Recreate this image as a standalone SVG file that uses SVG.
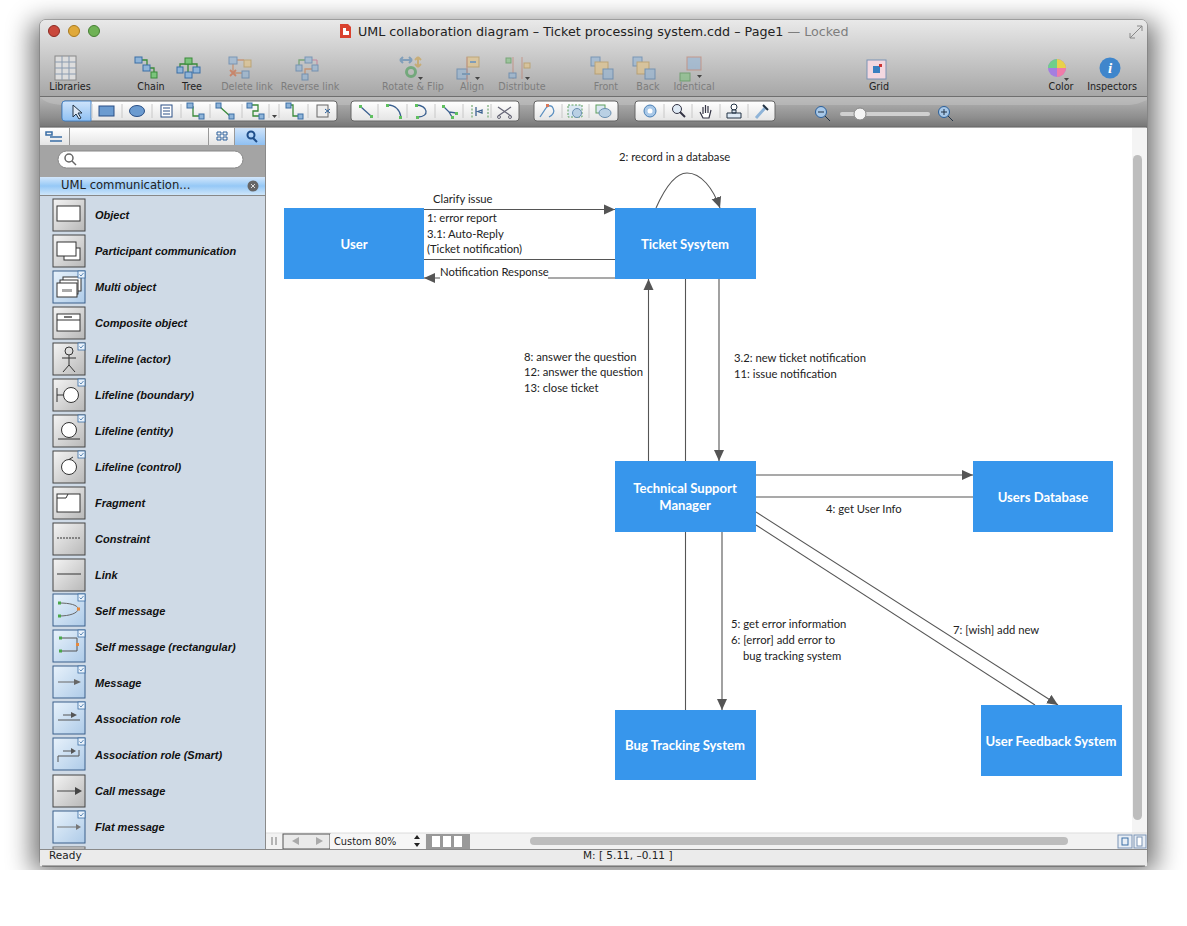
<svg xmlns="http://www.w3.org/2000/svg" width="1187" height="926" viewBox="0 0 1187 926">
<style>
text{font-family:"DejaVu Sans",sans-serif;fill:#222}
.tb{font-size:9.6px;text-anchor:middle;fill:#222}
.dim{fill:#7d7d7d}
.pal{font-family:"Liberation Sans",Arial,sans-serif;font-size:11px;font-weight:bold;font-style:italic;fill:#111}
.node rect{fill:#3796ec}
.node text{font-family:Lato,"Open Sans",sans-serif;font-size:13.100px;font-weight:bold;fill:#fff;text-anchor:middle}
.lab{font-family:Lato,"Open Sans",sans-serif;font-size:11.250px;fill:#222}
.c{fill:none;stroke:#555;stroke-width:1.1}
.ic{fill:#fff;stroke:#333;stroke-width:1}
.bl{fill:#8fb4d8;stroke:#3a6ea5;stroke-width:1}
.gr{fill:#7bc47b;stroke:#3a8a3a;stroke-width:1}
.or{fill:#e8c47e;stroke:#b58b3a;stroke-width:1}
.ln{fill:none;stroke:#3a6090;stroke-width:1.300}
.lg{fill:none;stroke:#3a8a3a;stroke-width:1.300}
.lo{fill:none;stroke:#c9703a;stroke-width:1.300}
.hg{fill:#5fbf5f}
.sep{stroke:#c8c8c8;stroke-width:1}
.faded{opacity:.55}
.tri{fill:#444}
</style>
<defs>
<linearGradient id="chrome" x1="0" y1="0" x2="0" y2="1"><stop offset="0" stop-color="#e9e9e9"/><stop offset="1" stop-color="#a6a6a6"/></linearGradient>
<linearGradient id="strip" x1="0" y1="0" x2="0" y2="1"><stop offset="0" stop-color="#b5b5b5"/><stop offset=".7" stop-color="#8d8d8d"/><stop offset="1" stop-color="#767676"/></linearGradient>
<linearGradient id="btn" x1="0" y1="0" x2="0" y2="1"><stop offset="0" stop-color="#fff"/><stop offset="1" stop-color="#e4e4e4"/></linearGradient>
<linearGradient id="sel" x1="0" y1="0" x2="0" y2="1"><stop offset="0" stop-color="#cfe4fb"/><stop offset="1" stop-color="#8fc0f2"/></linearGradient>
<linearGradient id="hdr" x1="0" y1="0" x2="0" y2="1"><stop offset="0" stop-color="#d3e7fb"/><stop offset=".5" stop-color="#95c8f6"/><stop offset="1" stop-color="#cfe6fa"/></linearGradient>
<linearGradient id="tile" x1="0" y1="0" x2="1" y2="1"><stop offset="0" stop-color="#f4f4f4"/><stop offset="1" stop-color="#b8b8b8"/></linearGradient>
<linearGradient id="tileb" x1="0" y1="0" x2="1" y2="1"><stop offset="0" stop-color="#e8f2fb"/><stop offset="1" stop-color="#aecbe8"/></linearGradient>
<filter id="sh" x="-10%" y="-10%" width="120%" height="120%"><feGaussianBlur stdDeviation="13"/></filter>
<clipPath id="page"><rect x="0" y="0" width="1187" height="870"/></clipPath>
<marker id="arr" markerUnits="userSpaceOnUse" markerWidth="12" markerHeight="12" refX="11" refY="5.500" orient="auto"><path d="M0 0.500L11 5.500L0 10.500Z" fill="#555"/></marker>
<g id="chk"><rect x="0" y="0" width="7" height="7" fill="#eaf2fb" stroke="#3a6ea5" stroke-width=".8"/><path d="M1.500 3.500L3 5L5.500 2" fill="none" stroke="#3a6ea5" stroke-width=".8"/></g>
<rect id="t" x="0" y="0" width="32" height="32" fill="url(#tile)" stroke="#444" stroke-width="1"/>
<rect id="tb" x="0" y="0" width="32" height="32" fill="url(#tileb)" stroke="#3a5f8a" stroke-width="1"/>
</defs>

<g clip-path="url(#page)"><rect x="32" y="22" width="1124" height="850" fill="#000" opacity=".55" filter="url(#sh)"/></g>

<!-- window -->
<rect x="40" y="20" width="1107" height="846" rx="5" fill="#ececec" stroke="#777"/>
<path d="M40 97V25a5 5 0 0 1 5-5H1142a5 5 0 0 1 5 5V97Z" fill="url(#chrome)"/>
<rect x="40" y="97" width="1107" height="30" fill="url(#strip)"/>
<path d="M40 97H1147V100C1140 103 1135 105 1125 105H65C55 105 45 103 40 97Z" fill="#c0c0c0" opacity=".6"/>
<line x1="40" y1="96.500" x2="1147" y2="96.500" stroke="#6f6f6f"/>
<line x1="40" y1="127" x2="1147" y2="127" stroke="#666"/>
<circle cx="54" cy="31" r="5.500" fill="#c9483c" stroke="#8c2a22"/><circle cx="74" cy="31" r="5.500" fill="#e0a93a" stroke="#a97a1e"/><circle cx="94" cy="31" r="5.500" fill="#6fb255" stroke="#467f34"/>
<path d="M340 24H348L351 27V38H340Z" fill="#d9412e"/><path d="M343 28H346V31H349V35H343Z" fill="#fff"/>
<text x="358" y="36" font-size="12.700">UML collaboration diagram – Ticket processing system.cdd – Page1 <tspan class="dim">— Locked</tspan></text>
<path d="M1130 38L1136 32M1130 38V33M1130 38H1135" stroke="#888" fill="none"/><path d="M1142 26L1136 32M1142 26V31M1142 26H1137" stroke="#888" fill="none"/>

<!-- top toolbar -->
<g>
<rect x="55" y="56" width="21" height="24" fill="#ddd" stroke="#888"/><path d="M55 62H76M55 68H76M55 74H76M62 56V80M69 56V80" stroke="#8a9bb0"/>
<path d="M141 60H147V65M150 68H154V72" class="lg"/><rect x="135" y="57" width="7" height="6" class="bl"/><rect x="143" y="65" width="7" height="6" class="bl"/><rect x="151" y="72" width="6" height="6" class="gr"/>
<path d="M188 64V72M180 67V64H197V67" class="lg"/><rect x="185" y="58" width="7" height="6" class="gr"/><rect x="177" y="67" width="6" height="6" class="bl"/><rect x="185" y="72" width="7" height="6" class="bl"/><rect x="193" y="67" width="7" height="6" class="bl"/>
<g class="faded"><path d="M237 60H244M233 64V73H242" class="lo"/><rect x="229" y="57" width="8" height="7" class="bl"/><rect x="244" y="60" width="7" height="7" class="or"/><rect x="242" y="71" width="7" height="7" class="bl"/><path d="M230 70L236 76M236 70L230 76" stroke="#d35a2a" stroke-width="1.800"/></g>
<g class="faded"><path d="M299 65V60H305" class="lg"/><path d="M312 60H317V65" stroke="#c0507a" fill="none"/><path d="M305 74V69H314" class="lo"/><rect x="305" y="57" width="7" height="6" class="bl"/><rect x="296" y="65" width="6" height="6" class="bl"/><rect x="312" y="65" width="6" height="6" class="bl"/><rect x="302" y="74" width="6" height="6" class="bl"/></g>
<g class="faded"><path d="M400 60H412M400 60L403 57M400 60L403 63M412 60L409 57M412 60L409 63" stroke="#4a7fb0" stroke-width="2" fill="none"/><path d="M418 57V67M418 57L415 60M418 57L421 60M418 67L415 64M418 67L421 64" stroke="#c99a3a" stroke-width="2" fill="none"/><circle cx="411" cy="72" r="4.500" fill="none" stroke="#3a9a4a" stroke-width="3"/></g>
<path d="M418 77H423L420.500 80Z" class="tri"/>
<g class="faded"><rect x="467" y="57" width="12" height="10" class="or"/><rect x="457" y="69" width="10" height="10" class="bl"/><path d="M467 57V82" stroke="#c0705a"/><path d="M470 62H476M462 74H470" stroke="#4a7fb0" stroke-width="2"/></g>
<path d="M475 77H480L477.500 80Z" class="tri"/>
<g class="faded"><path d="M513 57V79M522 57V79" stroke="#c0705a"/><rect x="506" y="58" width="5" height="5" class="gr"/><rect x="509" y="73" width="7" height="5" class="bl"/><rect x="524" y="63" width="6" height="5" class="or"/></g>
<path d="M525 77H530L527.500 80Z" class="tri"/>
<g class="faded"><rect x="591" y="57" width="9" height="9" class="bl"/><rect x="595" y="62" width="13" height="12" class="or"/><rect x="603" y="69" width="10" height="10" class="bl"/></g>
<g class="faded"><rect x="633" y="57" width="9" height="9" class="bl"/><rect x="637" y="62" width="12" height="12" class="or"/><rect x="645" y="69" width="10" height="10" class="bl"/></g>
<g class="faded"><rect x="687" y="57" width="14" height="13" fill="#8fb4d8" stroke="#c0705a"/><rect x="680" y="73" width="10" height="8" class="gr"/></g>
<path d="M697 75H702L699.500 78Z" class="tri"/>
<rect x="867" y="60" width="19" height="19" fill="#f4d8e0" stroke="#7a93b5"/><rect x="873" y="66" width="7" height="7" fill="#3a7fc0"/><rect x="879" y="64" width="3" height="3" fill="#c33"/>
<circle cx="1057" cy="68" r="9" fill="#a47fe0"/><path d="M1057 59A9 9 0 0 1 1066 68H1057Z" fill="#e8d24a"/><path d="M1057 68H1066A9 9 0 0 1 1057 77Z" fill="#f07ca8"/><path d="M1048 68A9 9 0 0 1 1057 59V68Z" fill="#6fd08a"/>
<path d="M1064 78H1069L1066.500 81Z" class="tri"/>
<circle cx="1110" cy="68" r="10.500" fill="#3f86cc"/><text x="1110" y="73" font-size="15" font-weight="bold" font-style="italic" text-anchor="middle" style="fill:#fff;font-family:'Liberation Serif',serif">i</text>
<text class="tb" x="70" y="90">Libraries</text><text class="tb" x="151" y="90">Chain</text><text class="tb" x="192" y="90">Tree</text>
<text class="tb dim" x="247" y="90">Delete link</text><text class="tb dim" x="310" y="90">Reverse link</text><text class="tb dim" x="413" y="90">Rotate &amp; Flip</text><text class="tb dim" x="472" y="90">Align</text><text class="tb dim" x="522" y="90">Distribute</text><text class="tb dim" x="606" y="90">Front</text><text class="tb dim" x="648" y="90">Back</text><text class="tb dim" x="694" y="90">Identical</text>
<text class="tb" x="879" y="90">Grid</text><text class="tb" x="1061" y="90">Color</text><text class="tb" x="1112" y="90">Inspectors</text>
</g>

<!-- second toolbar -->
<g>
<rect x="62" y="101" width="275" height="20" rx="3" fill="url(#btn)" stroke="#666"/>
<path d="M65 101H91V121H65a3 3 0 0 1-3-3V104a3 3 0 0 1 3-3Z" fill="url(#sel)" stroke="#4a86c8"/>
<rect x="351" y="101" width="168" height="20" rx="3" fill="url(#btn)" stroke="#666"/>
<rect x="534" y="101" width="84" height="20" rx="3" fill="url(#btn)" stroke="#666"/>
<rect x="635" y="101" width="140" height="20" rx="3" fill="url(#btn)" stroke="#666"/>
<path d="M92 104V118M122 104V118M152 104V118M181 104V118M210 104V118M242 104V118M269 104V118M279 104V118M308 104V118M378 104V118M407 104V118M435 104V118M463 104V118M491 104V118M562 104V118M589 104V118M664 104V118M692 104V118M720 104V118M748 104V118" class="sep"/>
<path d="M73 105V117L76 114L79 119L81 118L78 113H82Z" fill="#dfe9f5" stroke="#234"/>
<rect x="99" y="106" width="15" height="10" fill="#6b9bd0" stroke="#2a4f85"/>
<ellipse cx="137" cy="111" rx="7.500" ry="5.500" fill="#6b9bd0" stroke="#2a4f85"/>
<rect x="161" y="105" width="11" height="12" fill="#fff" stroke="#2a4f85"/><path d="M163 108H170M163 111H170M163 114H170" stroke="#2a4f85"/>
<path d="M190 107H193V116H199" class="lg"/><rect x="187" y="103" width="6" height="5" class="bl"/><rect x="199" y="114" width="5" height="5" class="bl"/>
<path d="M220 107L230 116" class="lg"/><rect x="216" y="103" width="5" height="5" class="bl"/><rect x="229" y="114" width="5" height="5" class="bl"/>
<path d="M252 105H258V111H253V116H259" class="lg"/><rect x="247" y="103" width="5" height="5" class="bl"/><rect x="259" y="114" width="5" height="5" class="bl"/>
<path d="M272 115H277L274.500 118Z" class="tri"/>
<path d="M290 105H293V116H298" class="lg"/><rect x="286" y="103" width="5" height="5" class="bl"/><rect x="298" y="114" width="5" height="5" class="bl"/>
<rect x="317" y="105" width="11" height="12" fill="#eee" stroke="#666"/><path d="M325 109L330 113M330 109L325 113" stroke="#2a5f9a"/>
<g class="ln"><path d="M361 107L371 116"/><path d="M388 105C395 105 400 110 401 117"/><path d="M416 105C428 105 430 117 418 117"/><path d="M443 106L449 112L456 113M449 112L452 117"/><path d="M476 107V116M482 110L478 111.500L482 113Z"/><path d="M492 0" /></g>
<path d="M472 105V118M488 105V118" stroke="#7cae7c" stroke-dasharray="2 1.500" stroke-width="1.300"/>
<path d="M498 107L511 116M511 107L498 116" stroke="#667" stroke-width="1.300"/><circle cx="499" cy="117" r="1.500" fill="none" stroke="#667"/><circle cx="510" cy="117" r="1.500" fill="none" stroke="#667"/>
<g class="hg"><rect x="359" y="105" width="3" height="3"/><rect x="370" y="115" width="3" height="3"/><rect x="386" y="104" width="3" height="3"/><rect x="399" y="116" width="3" height="3"/><rect x="415" y="104" width="3" height="3"/><rect x="416" y="116" width="3" height="3"/><rect x="442" y="105" width="3" height="3"/><rect x="451" y="116" width="3" height="3"/><rect x="455" y="112" width="3" height="3"/></g>
<path d="M540 117L546 108C548 105 552 105 553 108C555 112 553 115 549 117" fill="none" stroke="#5a8fc0" stroke-width="1.300"/><rect x="546" y="104" width="3" height="3" fill="#d9785a"/>
<rect x="568" y="105" width="14" height="12" fill="#dbe8f3" stroke="#5fa05f" stroke-dasharray="2 1.500"/><circle cx="577" cy="113" r="4.500" fill="#b9d0e4" stroke="#6a8fb0"/>
<rect x="596" y="105" width="9" height="8" fill="#dbe8f3" stroke="#5fa05f"/><ellipse cx="605" cy="113" rx="6" ry="4.500" fill="#b9d0e4" stroke="#6a8fb0"/>
<circle cx="650" cy="111" r="6" fill="#a8c8e8" stroke="#4a80b5"/><circle cx="650" cy="111" r="2.500" fill="#fff"/>
<circle cx="677" cy="109" r="4.500" fill="#dfeaf5" stroke="#334"/><path d="M680 112L685 117" stroke="#334" stroke-width="2"/>
<path d="M700 112L703 118H709L711 110M703 114V107M705.500 113V105M708 113V106" fill="#fff" stroke="#334" stroke-width="1.200"/>
<circle cx="734" cy="107" r="3" fill="#fff" stroke="#234"/><path d="M732 110H736V113H732ZM727 113H741V118H727Z" fill="#dfeaf5" stroke="#234"/>
<path d="M756 118L765 108" stroke="#8fb4d8" stroke-width="3"/><path d="M763 105L768 110" stroke="#234" stroke-width="2"/>
<circle cx="821" cy="112" r="5.500" fill="#a8c8e8" stroke="#2a5f9a"/><path d="M818 112H824M825 116L830 121" stroke="#234"/>
<rect x="840" y="112" width="90" height="4" rx="2" fill="#d0d0d0"/><circle cx="860" cy="114" r="6" fill="#f4f4f4" stroke="#888"/>
<circle cx="944" cy="112" r="5.500" fill="#a8c8e8" stroke="#2a5f9a"/><path d="M941 112H947M944 109V115M948 116L953 121" stroke="#234"/>
</g>

<!-- sidebar -->
<g>
<rect x="40" y="127" width="226" height="722" fill="#a4a4a4"/>
<rect x="40" y="128" width="226" height="17" fill="url(#btn)"/>
<path d="M69.500 128V145M208.500 128V145M234.500 128V145" stroke="#999"/>
<rect x="235" y="128" width="31" height="17" fill="url(#sel)"/>
<path d="M46 132H52V135H46ZM50 137H62M50 141H62" fill="none" stroke="#3a6ea5" stroke-width="1.500"/>
<path d="M217 132H221V135H217ZM223 132H227V135H223ZM217 137H221V140H217ZM223 137H227V140H223Z" fill="none" stroke="#2a5f9a"/>
<circle cx="251" cy="135" r="3.500" fill="none" stroke="#1f4e8a" stroke-width="2"/><path d="M253 138L257 142" stroke="#1f4e8a" stroke-width="2"/>
<rect x="58" y="151" width="185" height="17" rx="8.500" fill="#fff" stroke="#888"/>
<circle cx="69" cy="158" r="4" fill="none" stroke="#666" stroke-width="1.500"/><path d="M72 161L76 165" stroke="#666" stroke-width="1.500"/>
<rect x="40" y="177" width="226" height="18" fill="url(#hdr)"/><line x1="40" y1="195.500" x2="266" y2="195.500" stroke="#888"/>
<text x="61" y="189" font-size="11.600">UML communication...</text>
<circle cx="253" cy="186" r="5.500" fill="#666"/><path d="M251 184L255 188M255 184L251 188" stroke="#ddd"/>
<rect x="40" y="196" width="226" height="653" fill="#cfdae6"/>
<line x1="265.500" y1="127" x2="265.500" y2="849" stroke="#8a8a8a"/>

<use href="#t" x="53" y="199"/><rect x="57" y="206" width="23" height="15" class="ic"/>
<use href="#t" x="53" y="235"/><rect x="64" y="248" width="16" height="12" class="ic"/><rect x="57" y="242" width="19" height="14" class="ic"/>
<use href="#tb" x="53" y="271"/><rect x="63" y="277" width="18" height="14" class="ic"/><rect x="60" y="280" width="18" height="14" class="ic"/><rect x="57" y="283" width="20" height="14" class="ic"/><path d="M62 289H72V292H62Z" fill="#aaa"/><use href="#chk" x="78" y="271"/>
<use href="#t" x="53" y="307"/><rect x="57" y="314" width="23" height="17" class="ic"/><path d="M57 320H80" stroke="#333"/><rect x="64" y="316" width="8" height="2" fill="#777"/>
<use href="#t" x="53" y="343"/><g fill="none" stroke="#333"><circle cx="69" cy="351" r="4"/><path d="M69 355V365M62 358H76M69 365L63 372M69 365L75 372"/></g><use href="#chk" x="78" y="343"/>
<use href="#t" x="53" y="379"/><g fill="#fff" stroke="#333"><path d="M57 388V402M57 395H63" /><circle cx="71" cy="395" r="7.500"/></g><use href="#chk" x="78" y="379"/>
<use href="#t" x="53" y="415"/><g fill="#fff" stroke="#333"><circle cx="69" cy="430" r="7.500"/><path d="M58 439H80"/></g><use href="#chk" x="78" y="415"/>
<use href="#t" x="53" y="451"/><g fill="#fff" stroke="#333"><circle cx="69" cy="467" r="7.500"/><path d="M69 459.500L73 457"/></g><use href="#chk" x="78" y="451"/>
<use href="#t" x="53" y="487"/><rect x="57" y="494" width="23" height="18" class="ic"/><path d="M57 498H66L68 494" fill="none" stroke="#333"/>
<use href="#t" x="53" y="523"/><path d="M57 538H81" stroke="#333" stroke-dasharray="2 1"/>
<use href="#t" x="53" y="559"/><path d="M57 574H81" stroke="#333"/>
<use href="#tb" x="53" y="594"/><path d="M59 603C70 603 78 605 78 609C78 613 70 616 59 616" fill="none" stroke="#666"/><rect x="58" y="601.500" width="3" height="3" fill="#4aa84a"/><rect x="58" y="614.500" width="3" height="3" fill="#4aa84a"/><rect x="77" y="607.500" width="3" height="3" fill="#e8883a"/><use href="#chk" x="78" y="594"/>
<use href="#tb" x="53" y="630"/><path d="M60 638H77V651H60" fill="none" stroke="#555"/><rect x="59" y="636.500" width="3" height="3" fill="#4aa84a"/><rect x="59" y="649.500" width="3" height="3" fill="#4aa84a"/><rect x="76" y="643" width="3" height="3" fill="#e8883a"/><use href="#chk" x="78" y="630"/>
<use href="#tb" x="53" y="666"/><path d="M58 682H76" stroke="#666"/><path d="M74 679L81 682L74 685Z" fill="#666"/><use href="#chk" x="78" y="666"/>
<use href="#tb" x="53" y="702"/><path d="M58 720H80M63 715H72" fill="none" stroke="#555"/><path d="M71 712L77 715L71 718Z" fill="#555"/><use href="#chk" x="78" y="702"/>
<use href="#tb" x="53" y="738"/><path d="M58 762V756H79V750M63 751H72" fill="none" stroke="#555"/><path d="M71 748L76 751L71 754Z" fill="#555"/><use href="#chk" x="78" y="738"/>
<use href="#t" x="53" y="775"/><path d="M57 791H78" stroke="#444"/><path d="M75 787L82 791L75 795Z" fill="#444"/>
<use href="#tb" x="53" y="811"/><path d="M57 827H78" stroke="#777"/><path d="M76 824L81 827L76 830Z" fill="#777"/><use href="#chk" x="78" y="811"/>
<rect x="53" y="847" width="32" height="2" fill="#fff" stroke="#666"/>

<text class="pal" x="95" y="219">Object</text><text class="pal" x="95" y="255">Participant communication</text><text class="pal" x="95" y="291">Multi object</text><text class="pal" x="95" y="327">Composite object</text><text class="pal" x="95" y="363">Lifeline (actor)</text><text class="pal" x="95" y="399">Lifeline (boundary)</text><text class="pal" x="95" y="435">Lifeline (entity)</text><text class="pal" x="95" y="471">Lifeline (control)</text><text class="pal" x="95" y="507">Fragment</text><text class="pal" x="95" y="543">Constraint</text><text class="pal" x="95" y="579">Link</text><text class="pal" x="95" y="615">Self message</text><text class="pal" x="95" y="651">Self message (rectangular)</text><text class="pal" x="95" y="687">Message</text><text class="pal" x="95" y="723">Association role</text><text class="pal" x="95" y="759">Association role (Smart)</text><text class="pal" x="95" y="795">Call message</text><text class="pal" x="95" y="831">Flat message</text>
</g>

<!-- canvas -->
<rect x="266" y="128" width="866" height="705" fill="#fff"/>
<rect x="1132" y="128" width="15" height="705" fill="#f4f4f4"/><rect x="1133" y="155" width="9" height="665" rx="4.500" fill="#bdbdbd"/>
<rect x="266" y="833" width="881" height="16" fill="#f2f2f2"/><line x1="266" y1="833" x2="1147" y2="833" stroke="#ddd"/>
<rect x="530" y="837" width="538" height="8" rx="4" fill="#bdbdbd"/>
<path d="M272 837V845M276 837V845" stroke="#777"/>
<rect x="283" y="834" width="47" height="15" fill="#eaeaea" stroke="#555"/><path d="M299 837L292 841L299 845ZM316 837L323 841L316 845Z" fill="#aaa"/>
<rect x="330" y="834" width="95" height="15" fill="#f6f6f6"/>
<text x="334" y="845" font-size="9.800">Custom 80%</text>
<path d="M414 839H420L417 835ZM414 843H420L417 847Z" fill="#222"/>
<rect x="426" y="834" width="44" height="15" fill="#999"/><rect x="432" y="836" width="8" height="11" fill="#fff"/><rect x="443" y="836" width="8" height="11" fill="#fff"/><rect x="454" y="836" width="8" height="11" fill="#fff"/>
<rect x="1118" y="835" width="14" height="13" fill="#e8eef5" stroke="#7a93b5"/><rect x="1122" y="838" width="6" height="7" fill="none" stroke="#3a6ea5"/><rect x="1134" y="835" width="12" height="13" fill="#e8eef5" stroke="#7a93b5"/><rect x="1137" y="837" width="5" height="9" fill="#fff" stroke="#7a93b5"/>

<!-- status bar -->
<rect x="40" y="849" width="1107" height="17" fill="#ebebeb"/><line x1="40" y1="849.500" x2="1147" y2="849.500" stroke="#8a8a8a"/><line x1="42" y1="866" x2="1145" y2="866" stroke="#666"/>
<text x="49" y="859" font-size="10.500">Ready</text>
<text x="583" y="859" font-size="10.500">M: [ 5.11, –0.11 ]</text>

<!-- connectors -->
<g id="connectors">
<path id="c1" class="c" d="M424 209.500H615" marker-end="url(#arr)"/>
<path id="c2" class="c" d="M424 259.500H615"/>
<path id="c3" class="c" d="M615 278H548M440 278H424" marker-end="url(#arr)"/>
<path id="c4" class="c" d="M656 208C664 190 674 173 687 173C701 173 713 188 720 208" marker-end="url(#arr)"/>
<path id="c5" class="c" d="M648.500 461V279" marker-end="url(#arr)"/>
<path id="c6" class="c" d="M685.500 279V461"/>
<path id="c7" class="c" d="M719 279V461" marker-end="url(#arr)"/>
<path id="c8" class="c" d="M756 475H973" marker-end="url(#arr)"/>
<path id="c9" class="c" d="M756 497H973"/>
<path id="c10" class="c" d="M722 532V710" marker-end="url(#arr)"/>
<path id="c11" class="c" d="M685.500 532V710"/>
<path id="c12" class="c" d="M756 512L1058 705" marker-end="url(#arr)"/>
<path id="c13" class="c" d="M756 525L1035 705"/>
</g>

<!-- nodes -->
<g id="node-user" class="node"><rect x="284" y="208" width="140" height="71"/><text x="354" y="249">User</text></g>
<g id="node-ticket" class="node"><rect x="615" y="208" width="141" height="71"/><text x="685" y="249">Ticket Sysytem</text></g>
<g id="node-support" class="node"><rect x="615" y="461" width="141" height="71"/><text x="685" y="493">Technical Support</text><text x="685" y="510">Manager</text></g>
<g id="node-users-db" class="node"><rect x="973" y="461" width="140" height="71"/><text x="1043" y="502">Users Database</text></g>
<g id="node-bug" class="node"><rect x="615" y="710" width="141" height="70"/><text x="685" y="750">Bug Tracking System</text></g>
<g id="node-feedback" class="node"><rect x="981" y="705" width="141" height="71"/><text x="1051" y="746">User Feedback System</text></g>

<!-- labels -->
<g id="labels">
<text class="lab" x="619" y="161">2: record in a database</text>
<text class="lab" x="433" y="203">Clarify issue</text>
<text class="lab" x="427" y="222">1: error report</text>
<text class="lab" x="427" y="238">3.1: Auto-Reply</text>
<text class="lab" x="427" y="253">(Ticket notification)</text>
<text class="lab" x="440" y="276">Notification Response</text>
<text class="lab" x="524" y="361">8: answer the question</text>
<text class="lab" x="524" y="376">12: answer the question</text>
<text class="lab" x="524" y="392">13: close ticket</text>
<text class="lab" x="734" y="362">3.2: new ticket notification</text>
<text class="lab" x="734" y="378">11: issue notification</text>
<text class="lab" x="826" y="513">4: get User Info</text>
<text class="lab" x="731" y="628">5: get error information</text>
<text class="lab" x="731" y="644">6: [error] add error to</text>
<text class="lab" x="743" y="660">bug tracking system</text>
<text class="lab" x="953" y="634">7: [wish] add new</text>
</g>
</svg>
